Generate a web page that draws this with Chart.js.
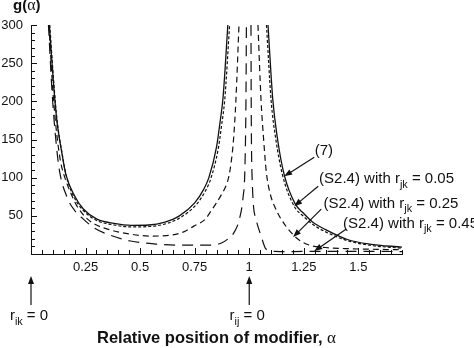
<!DOCTYPE html>
<html lang="en">
<head>
<meta charset="UTF-8">
<title>g(alpha) vs relative position of modifier</title>
<script src="https://cdn.jsdelivr.net/npm/chart.js"></script>
<style>
  body { margin: 0; background: #fff; }
  #wrap { width: 474px; height: 348px; }
</style>
</head>
<body>
<div id="wrap"><canvas id="gChart" width="474" height="348"></canvas></div>
<script>
// values; null marks the break between left and right branch
const eq7Alpha = [0.084, 0.103, 0.118, 0.141, 0.16, 0.2, 0.24, 0.3, 0.38, 0.46, 0.54, 0.61, 0.68, 0.75, 0.79, 0.815, 0.85, 0.865, 0.88, 0.902,
                  null, 1.086, 1.108, 1.13, 1.16, 1.21, 1.25, 1.29, 1.35, 1.45, 1.55, 1.7];
const eq7G = [300, 224, 176, 133, 104, 76, 59, 46, 40, 37.5, 38, 41.5, 50, 67, 84, 100, 140, 170, 205, 300,
              null, 300, 202, 150, 104, 66, 53, 42, 32, 19, 13, 9];

const rjk05Alpha = [0.086, 0.105, 0.12, 0.143, 0.162, 0.2, 0.24, 0.3, 0.38, 0.46, 0.54, 0.61, 0.68, 0.758, 0.798, 0.823, 0.858, 0.873, 0.888, 0.91,
                    null, 1.079, 1.1, 1.122, 1.152, 1.205, 1.25, 1.29, 1.35, 1.45, 1.55, 1.7];
const rjk05G = [300, 222, 174, 131, 102, 73, 57, 44, 38, 35.5, 36, 39, 47, 65, 82, 98, 138, 168, 203, 300,
                null, 300, 202, 150, 104, 63, 49, 39, 29, 17.5, 11.5, 7.5];

const rjk25Alpha = [0.082, 0.1, 0.115, 0.135, 0.16, 0.179, 0.21, 0.258, 0.3, 0.35, 0.456, 0.55, 0.62, 0.7, 0.746, 0.8, 0.824, 0.85, 0.875, 0.893, 0.907, 0.918, 0.928, 0.939, 0.953,
                    null, 1.04, 1.054, 1.066, 1.078, 1.095, 1.12, 1.146, 1.19, 1.23, 1.284, 1.35, 1.45, 1.55, 1.7];
const rjk25G = [300, 215, 165, 122, 96, 82, 63, 46, 38, 32.6, 26, 23.5, 24, 29, 36.5, 46, 56, 67, 79, 89, 102, 122, 150, 202, 300,
                null, 300, 202, 150, 108, 80, 60, 45.7, 28.7, 18, 11, 8.5, 7, 6.3, 5.5];

const rjk45Alpha = [0.08, 0.097, 0.112, 0.13, 0.166, 0.2, 0.24, 0.29, 0.35, 0.456, 0.58, 0.7, 0.824, 0.87, 0.902, 0.93, 0.955, 0.972, 0.98, 0.985, 0.987,
                    null, 1.008, 1.009, 1.012, 1.031, 1.054, 1.077, 1.12, 1.2, 1.3, 1.45, 1.7];
const rjk45G = [300, 210, 155, 110, 74, 57, 45.7, 34, 26, 17, 13, 11.5, 11.7, 14, 19.6, 28, 45.7, 75, 110, 202, 300,
                null, 300, 202, 111, 45.7, 24, 6.5, 3.5, 3.2, 3.5, 3.5, 3.2];

const xTicks = [0.25, 0.5, 0.75, 1, 1.25, 1.5];
const yTicks = [50, 100, 150, 200, 250, 300];

const SANS = '"Liberation Sans", Arial, Helvetica, sans-serif';
const SERIF = '"Liberation Serif", "DejaVu Serif", serif';
const INK = '#111';

function toPoints(alpha, g) {
  return alpha.map((a, i) => a === null ? { x: 1, y: null } : { x: a, y: g[i] });
}

function curve(alpha, g, dash, width) {
  return {
    data: toPoints(alpha, g),
    showLine: true,
    borderColor: INK,
    borderWidth: width,
    borderDash: dash,
    pointRadius: 0,
    fill: false,
    cubicInterpolationMode: 'monotone'
  };
}

// text with subscripts: parts = [[text, isSub], ...]
function subText(ctx, parts, x, y, size, align) {
  const widths = parts.map(([t, sub]) => {
    ctx.font = (sub ? size * 0.72 : size) + 'px ' + SANS;
    return ctx.measureText(t).width;
  });
  const total = widths.reduce((s, w) => s + w, 0);
  let cx = align === 'center' ? x - total / 2 : x;
  ctx.textAlign = 'left';
  ctx.textBaseline = 'alphabetic';
  parts.forEach(([t, sub], i) => {
    ctx.font = (sub ? size * 0.72 : size) + 'px ' + SANS;
    ctx.fillText(t, cx, sub ? y + size * 0.3 : y);
    cx += widths[i];
  });
}

function arrow(ctx, x1, y1, x2, y2) {
  const ang = Math.atan2(y2 - y1, x2 - x1);
  const len = 8, half = 3;
  ctx.beginPath();
  ctx.moveTo(x1, y1);
  ctx.lineTo(x2 - Math.cos(ang) * len * 0.8, y2 - Math.sin(ang) * len * 0.8);
  ctx.stroke();
  ctx.beginPath();
  ctx.moveTo(x2, y2);
  ctx.lineTo(x2 - Math.cos(ang) * len - Math.sin(ang) * half, y2 - Math.sin(ang) * len + Math.cos(ang) * half);
  ctx.lineTo(x2 - Math.cos(ang) * len + Math.sin(ang) * half, y2 - Math.sin(ang) * len - Math.cos(ang) * half);
  ctx.closePath();
  ctx.fill();
}

const decorations = {
  id: 'decorations',
  afterDraw(chart) {
    const { ctx, chartArea: area, scales: { x, y } } = chart;
    ctx.save();
    ctx.strokeStyle = INK;
    ctx.fillStyle = INK;
    ctx.lineWidth = 1;

    // inward tick marks, Mathematica style
    ctx.beginPath();
    for (let i = 1; i <= 34; i++) {
      const px = Math.round(x.getPixelForValue(i * 0.05)) + 0.5;
      const len = i % 5 === 0 ? 6 : 4;
      ctx.moveTo(px, area.bottom);
      ctx.lineTo(px, area.bottom - len);
    }
    for (let v = 10; v <= 300; v += 10) {
      const py = Math.round(y.getPixelForValue(v)) + 0.5;
      const len = v % 50 === 0 ? 6 : 4;
      ctx.moveTo(area.left, py);
      ctx.lineTo(area.left + len, py);
    }
    ctx.stroke();

    // y axis label g(α)
    ctx.textAlign = 'left';
    ctx.textBaseline = 'alphabetic';
    ctx.font = 'bold 15px ' + SANS;
    let gx = 13;
    ctx.fillText('g(', gx, 10);
    gx += ctx.measureText('g(').width;
    ctx.font = '16px ' + SERIF;
    ctx.fillText('α', gx, 10);
    gx += ctx.measureText('α').width;
    ctx.font = 'bold 15px ' + SANS;
    ctx.fillText(')', gx, 10);

    // x axis title
    const t1 = 'Relative position of modifier, ';
    ctx.font = 'bold 16.5px ' + SANS;
    const w1 = ctx.measureText(t1).width;
    ctx.font = '17px ' + SERIF;
    const w2 = ctx.measureText('α').width;
    const tx = (area.left + area.right) / 2 - (w1 + w2) / 2;
    ctx.font = 'bold 16.5px ' + SANS;
    ctx.fillText(t1, tx, 343);
    ctx.font = '17px ' + SERIF;
    ctx.fillText('α', tx + w1, 343);

    // markers below the axis at alpha = 0 and alpha = 1
    ctx.lineWidth = 1.2;
    [[0, 'ik'], [1, 'ij']].forEach(([a, sub]) => {
      const px = x.getPixelForValue(a);
      arrow(ctx, px, area.bottom + 51, px, area.bottom + 22);
      subText(ctx, [['r', false], [sub, true], [' = 0', false]], px - 2, area.bottom + 66, 15, 'center');
    });

    // curve labels with arrows
    const labels = [
      { parts: [['(7)', false]], at: [1.3, 130], from: [1.298, 126.6], tip: [1.16, 101.8] },
      { parts: [['(S2.4) with r', false], ['jk', true], [' = 0.05', false]], at: [1.32, 93], from: [1.316, 88.7], tip: [1.206, 62.6] },
      { parts: [['(S2.4) with r', false], ['jk', true], [' = 0.25', false]], at: [1.34, 60.5], from: [1.33, 58.7], tip: [1.201, 22.2] },
      { parts: [['(S2.4) with r', false], ['jk', true], [' = 0.45', false]], at: [1.43, 34.5], from: [1.445, 32.6], tip: [1.298, 3.9] }
    ];
    labels.forEach(l => {
      subText(ctx, l.parts, x.getPixelForValue(l.at[0]), y.getPixelForValue(l.at[1]), 15, 'left');
      arrow(ctx, x.getPixelForValue(l.from[0]), y.getPixelForValue(l.from[1]),
            x.getPixelForValue(l.tip[0]), y.getPixelForValue(l.tip[1]));
    });
    ctx.restore();
  }
};

new Chart(document.getElementById('gChart'), {
  type: 'scatter',
  data: {
    datasets: [
      curve(eq7Alpha, eq7G, [], 1.3),
      curve(rjk05Alpha, rjk05G, [3, 2], 1.2),
      curve(rjk25Alpha, rjk25G, [6, 4], 1.2),
      curve(rjk45Alpha, rjk45G, [11, 7], 1.2)
    ]
  },
  options: {
    responsive: false,
    animation: false,
    devicePixelRatio: 1,
    events: [],
    layout: { padding: { top: 25, right: 72, bottom: 0, left: 0 } },
    plugins: { legend: { display: false }, tooltip: { enabled: false } },
    scales: {
      x: {
        type: 'linear',
        min: 0,
        max: 1.7,
        afterBuildTicks: s => { s.ticks = xTicks.map(v => ({ value: v })); },
        afterFit: s => { s.height = 94; },
        grid: { display: false, drawTicks: false },
        border: { display: true, color: INK, width: 1 },
        ticks: { padding: 6, maxRotation: 0, autoSkip: false, color: INK,
                 font: { family: SANS, size: 13 }, callback: v => String(v) }
      },
      y: {
        type: 'linear',
        min: 0,
        max: 300,
        afterBuildTicks: s => { s.ticks = yTicks.map(v => ({ value: v })); },
        afterFit: s => { s.width = 31; },
        grid: { display: false, drawTicks: false },
        border: { display: true, color: INK, width: 1 },
        ticks: { padding: 8, color: INK, font: { family: SANS, size: 13 } }
      }
    }
  },
  plugins: [decorations]
});
</script>
</body>
</html>
